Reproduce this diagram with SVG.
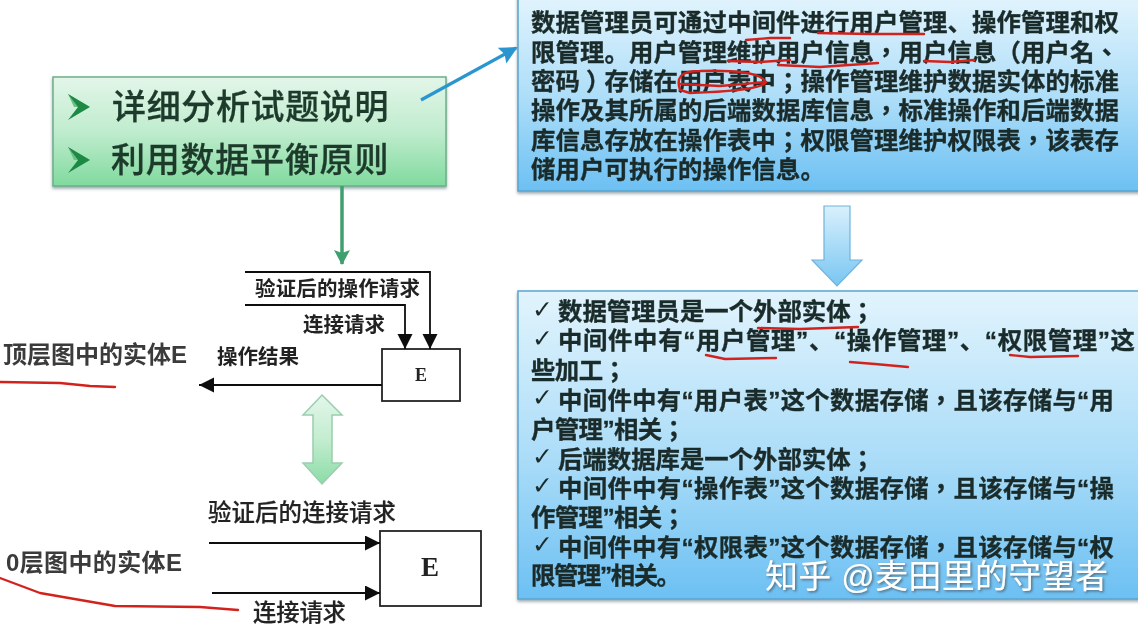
<svg xmlns="http://www.w3.org/2000/svg" width="1138" height="624" viewBox="0 0 1138 624">
<defs>
<linearGradient id="gGreen" x1="0" y1="0" x2="0" y2="1"><stop offset="0" stop-color="#e3f6e9"/><stop offset="0.5" stop-color="#c0ecce"/><stop offset="1" stop-color="#80da9e"/></linearGradient>
<linearGradient id="gBlue" x1="0" y1="0" x2="0" y2="1"><stop offset="0" stop-color="#e2f4fd"/><stop offset="0.55" stop-color="#aadcf8"/><stop offset="1" stop-color="#6cc0f3"/></linearGradient>
<linearGradient id="gArrowB" x1="0" y1="0" x2="0" y2="1"><stop offset="0" stop-color="#d9f0fc"/><stop offset="1" stop-color="#78c6f2"/></linearGradient>
<linearGradient id="gArrowG" x1="0" y1="0" x2="0" y2="1"><stop offset="0" stop-color="#e3f6e9"/><stop offset="0.5" stop-color="#c3edd0"/><stop offset="1" stop-color="#8bdca6"/></linearGradient>
<filter id="soft" x="-5%" y="-5%" width="110%" height="110%"><feGaussianBlur stdDeviation="0.45"/></filter>
<filter id="shadow" x="-5%" y="-10%" width="110%" height="125%"><feDropShadow dx="1.5" dy="1.5" stdDeviation="0.8" flood-color="#4a5a66" flood-opacity="0.8"/></filter>
<filter id="boxShadow" x="-3%" y="-3%" width="106%" height="108%"><feDropShadow dx="0" dy="2" stdDeviation="1.5" flood-color="#5a7080" flood-opacity="0.6"/></filter>
<marker id="headK" markerWidth="16" markerHeight="16" refX="15" refY="7.5" orient="auto" markerUnits="userSpaceOnUse"><path d="M0 0L15 7.5L0 15Z" fill="#111"/></marker>
<marker id="headG" markerWidth="18" markerHeight="18" refX="14" refY="8" orient="auto" markerUnits="userSpaceOnUse"><path d="M0 0L15 8L0 16L3 8Z" fill="#3f9f6e"/></marker>
<marker id="headBl" markerWidth="22" markerHeight="20" refX="16" refY="9" orient="auto" markerUnits="userSpaceOnUse"><path d="M0 0L18 9L0 18L3 9Z" fill="#2b96cf"/></marker>
</defs>
<style>
text{font-family:"Liberation Sans","Noto Sans CJK SC",sans-serif}
.b{font-size:24.4px;font-weight:700;fill:#1a2c2b;stroke:#1a2c2b;stroke-width:.35px}
text.p{font-family:"Liberation Sans","Noto Sans CJK TC",sans-serif}
.g{font-size:34px;font-weight:500;fill:#1d3a2c;stroke:#1d3a2c;stroke-width:.3px;letter-spacing:.6px}
.l{font-size:20.5px;font-weight:700;fill:#222}
.m{font-size:23.4px;font-weight:500;fill:#222;stroke:#222;stroke-width:.2px}
.t{font-size:24px;font-weight:700;fill:#3a3a3a}
text.c{font-family:"DejaVu Sans",sans-serif;font-size:25px;fill:#1a2c2b}
text.e{font-family:"Liberation Serif",serif;fill:#222}
.w{stroke:#111;stroke-width:1.8;fill:none}
.r{stroke:#d3231f;stroke-width:2.400;fill:none;stroke-linecap:round;stroke-linejoin:round}
.box{fill:#fff;stroke:#222;stroke-width:1.8}
</style>
<rect width="1138" height="624" fill="#fff"/>
<g filter="url(#soft)">
<g id="node-green">
<rect x="53" y="77" width="393" height="109" fill="url(#gGreen)" stroke="#6fae88" stroke-width="1.5" filter="url(#boxShadow)"/>
<path d="M68 94L90 107L68 107L74 107Z M68 147L90 160L68 160L74 160Z" fill="#6cbf85"/>
<path d="M68 94L90 107L68 120L78 107Z M68 147L90 160L68 173L78 160Z" fill="#1f8a45"/>
<text class="g" x="112" y="119" textLength="277">详细分析试题说明</text>
<text class="g" x="111" y="172" textLength="278">利用数据平衡原则</text>
</g>
<g id="node-desc">
<rect x="518" y="-4" width="630" height="195" fill="url(#gBlue)" stroke="#5aa5cf" stroke-width="1.5" filter="url(#boxShadow)"/>
<text class="b" x="531" y="31" textLength="588">数据管理员可通过中间件进行用户管理、操作管理和权</text>
<text class="b" x="531" y="60.500" textLength="343">限管理。用户管理维护用户信息</text>
<text class="b p" x="874" y="60.500" textLength="245">，用户信息（用户名、</text>
<text class="b p" x="531" y="90" textLength="588" dx="0 0 6 -6">密码）存储在用户表中；操作管理维护数据实体的标准</text>
<text class="b p" x="531" y="119" textLength="588">操作及其所属的后端数据库信息，标准操作和后端数据</text>
<text class="b p" x="531" y="148.500" textLength="588">库信息存放在操作表中；权限管理维护权限表，该表存</text>
<text class="b" x="531" y="178" textLength="294">储用户可执行的操作信息。</text>
</g>
<g id="node-list">
<rect x="518" y="291" width="630" height="308" fill="url(#gBlue)" stroke="#5aa5cf" stroke-width="1.5" filter="url(#boxShadow)"/>
<text class="c" x="532" y="318">✓</text>
<text class="c" x="532" y="347">✓</text>
<text class="c" x="532" y="406">✓</text>
<text class="c" x="532" y="465">✓</text>
<text class="c" x="532" y="494">✓</text>
<text class="c" x="532" y="553">✓</text>
<text class="b p" x="558" y="320" textLength="317">数据管理员是一个外部实体；</text>
<text class="b" x="558" y="349" textLength="577">中间件中有“用户管理”、“操作管理”、“权限管理”这</text>
<text class="b p" x="531" y="379" textLength="96">些加工；</text>
<text class="b p" x="558" y="408.500" textLength="556">中间件中有“用户表”这个数据存储，且该存储与“用</text>
<text class="b p" x="531" y="438" textLength="155">户管理”相关；</text>
<text class="b p" x="558" y="467.500" textLength="317">后端数据库是一个外部实体；</text>
<text class="b p" x="558" y="497" textLength="556">中间件中有“操作表”这个数据存储，且该存储与“操</text>
<text class="b p" x="531" y="526" textLength="155">作管理”相关；</text>
<text class="b p" x="558" y="555.500" textLength="556">中间件中有“权限表”这个数据存储，且该存储与“权</text>
<text class="b" x="531" y="584" textLength="150">限管理”相关。</text>
</g>
<g id="node-arrow-down">
<path d="M824 206H850V260H862L837 286L812 260H824Z" fill="url(#gArrowB)" stroke="#6fb4dc" stroke-width="1.2"/>
</g>
<g id="node-arrow-both">
<path d="M322 395L342 415H332V463H342L322 484L303 463H313V415H303Z" fill="url(#gArrowG)" stroke="#9ccdb0" stroke-width="1.5"/>
</g>
<g id="node-e-top">
<rect class="box" x="382" y="349" width="78" height="52"/>
<text class="e" x="421" y="381" font-size="18" font-weight="700" text-anchor="middle">E</text>
</g>
<g id="node-e-zero">
<rect class="box" x="380" y="531" width="101" height="75"/>
<text class="e" x="430" y="576" font-size="27" font-weight="700" text-anchor="middle">E</text>
</g>
<g id="connectors">
<path d="M421 100L516 48" stroke="#2b96cf" stroke-width="3.200" fill="none" marker-end="url(#headBl)"/>
<path d="M342 186V264" stroke="#3f9f6e" stroke-width="3.500" fill="none" marker-end="url(#headG)"/>
<path class="w" d="M245 272H430V349" marker-end="url(#headK)"/>
<path class="w" d="M245 305H405V349" marker-end="url(#headK)"/>
<path class="w" d="M382 385H199" marker-end="url(#headK)"/>
<path class="w" d="M209 543H380" marker-end="url(#headK)"/>
<path class="w" d="M212 593H380" marker-end="url(#headK)"/>
</g>
<g id="labels">
<text class="l" x="255" y="296" textLength="165">验证后的操作请求</text>
<text class="l" x="303" y="332" textLength="82">连接请求</text>
<text class="l" x="217" y="364" textLength="82">操作结果</text>
<text class="m" x="208" y="521" textLength="188">验证后的连接请求</text>
<text class="m" x="253" y="621" textLength="93">连接请求</text>
<text class="t" x="3" y="363" textLength="184">顶层图中的实体E</text>
<text class="t" x="6" y="571" textLength="176">0层图中的实体E</text>
</g>
<g id="annotations">
<path class="r" d="M0 382L60 383L90 386L115 387"/>
<path class="r" d="M0 578L40 593L115 606L200 607L238 610"/>
<path class="r" d="M818 33L870 34L924 34"/>
<path class="r" d="M746 40L770 38L790 38"/>
<path class="r" d="M728 61L760 62L790 60"/>
<path class="r" d="M778 65L820 67L878 63"/>
<path class="r" d="M924 61L950 62L974 60"/>
<path class="r" d="M680 90C676 78 680 71 700 71C730 70 760 72 766 82C762 90 720 92 690 93Z"/>
<path class="r" d="M680 84L720 86L766 82"/>
<path class="r" d="M758 328L800 329L858 327"/>
<path class="r" d="M706 355L725 359L776 358"/>
<path class="r" d="M850 362L875 364L908 367"/>
<path class="r" d="M1010 355L1030 357L1078 356"/>
</g>
</g>
<g id="watermark">
<text x="765" y="588" font-size="33" fill="#fff" textLength="343" filter="url(#shadow)">知乎 @麦田里的守望者</text>
</g>
</svg>
